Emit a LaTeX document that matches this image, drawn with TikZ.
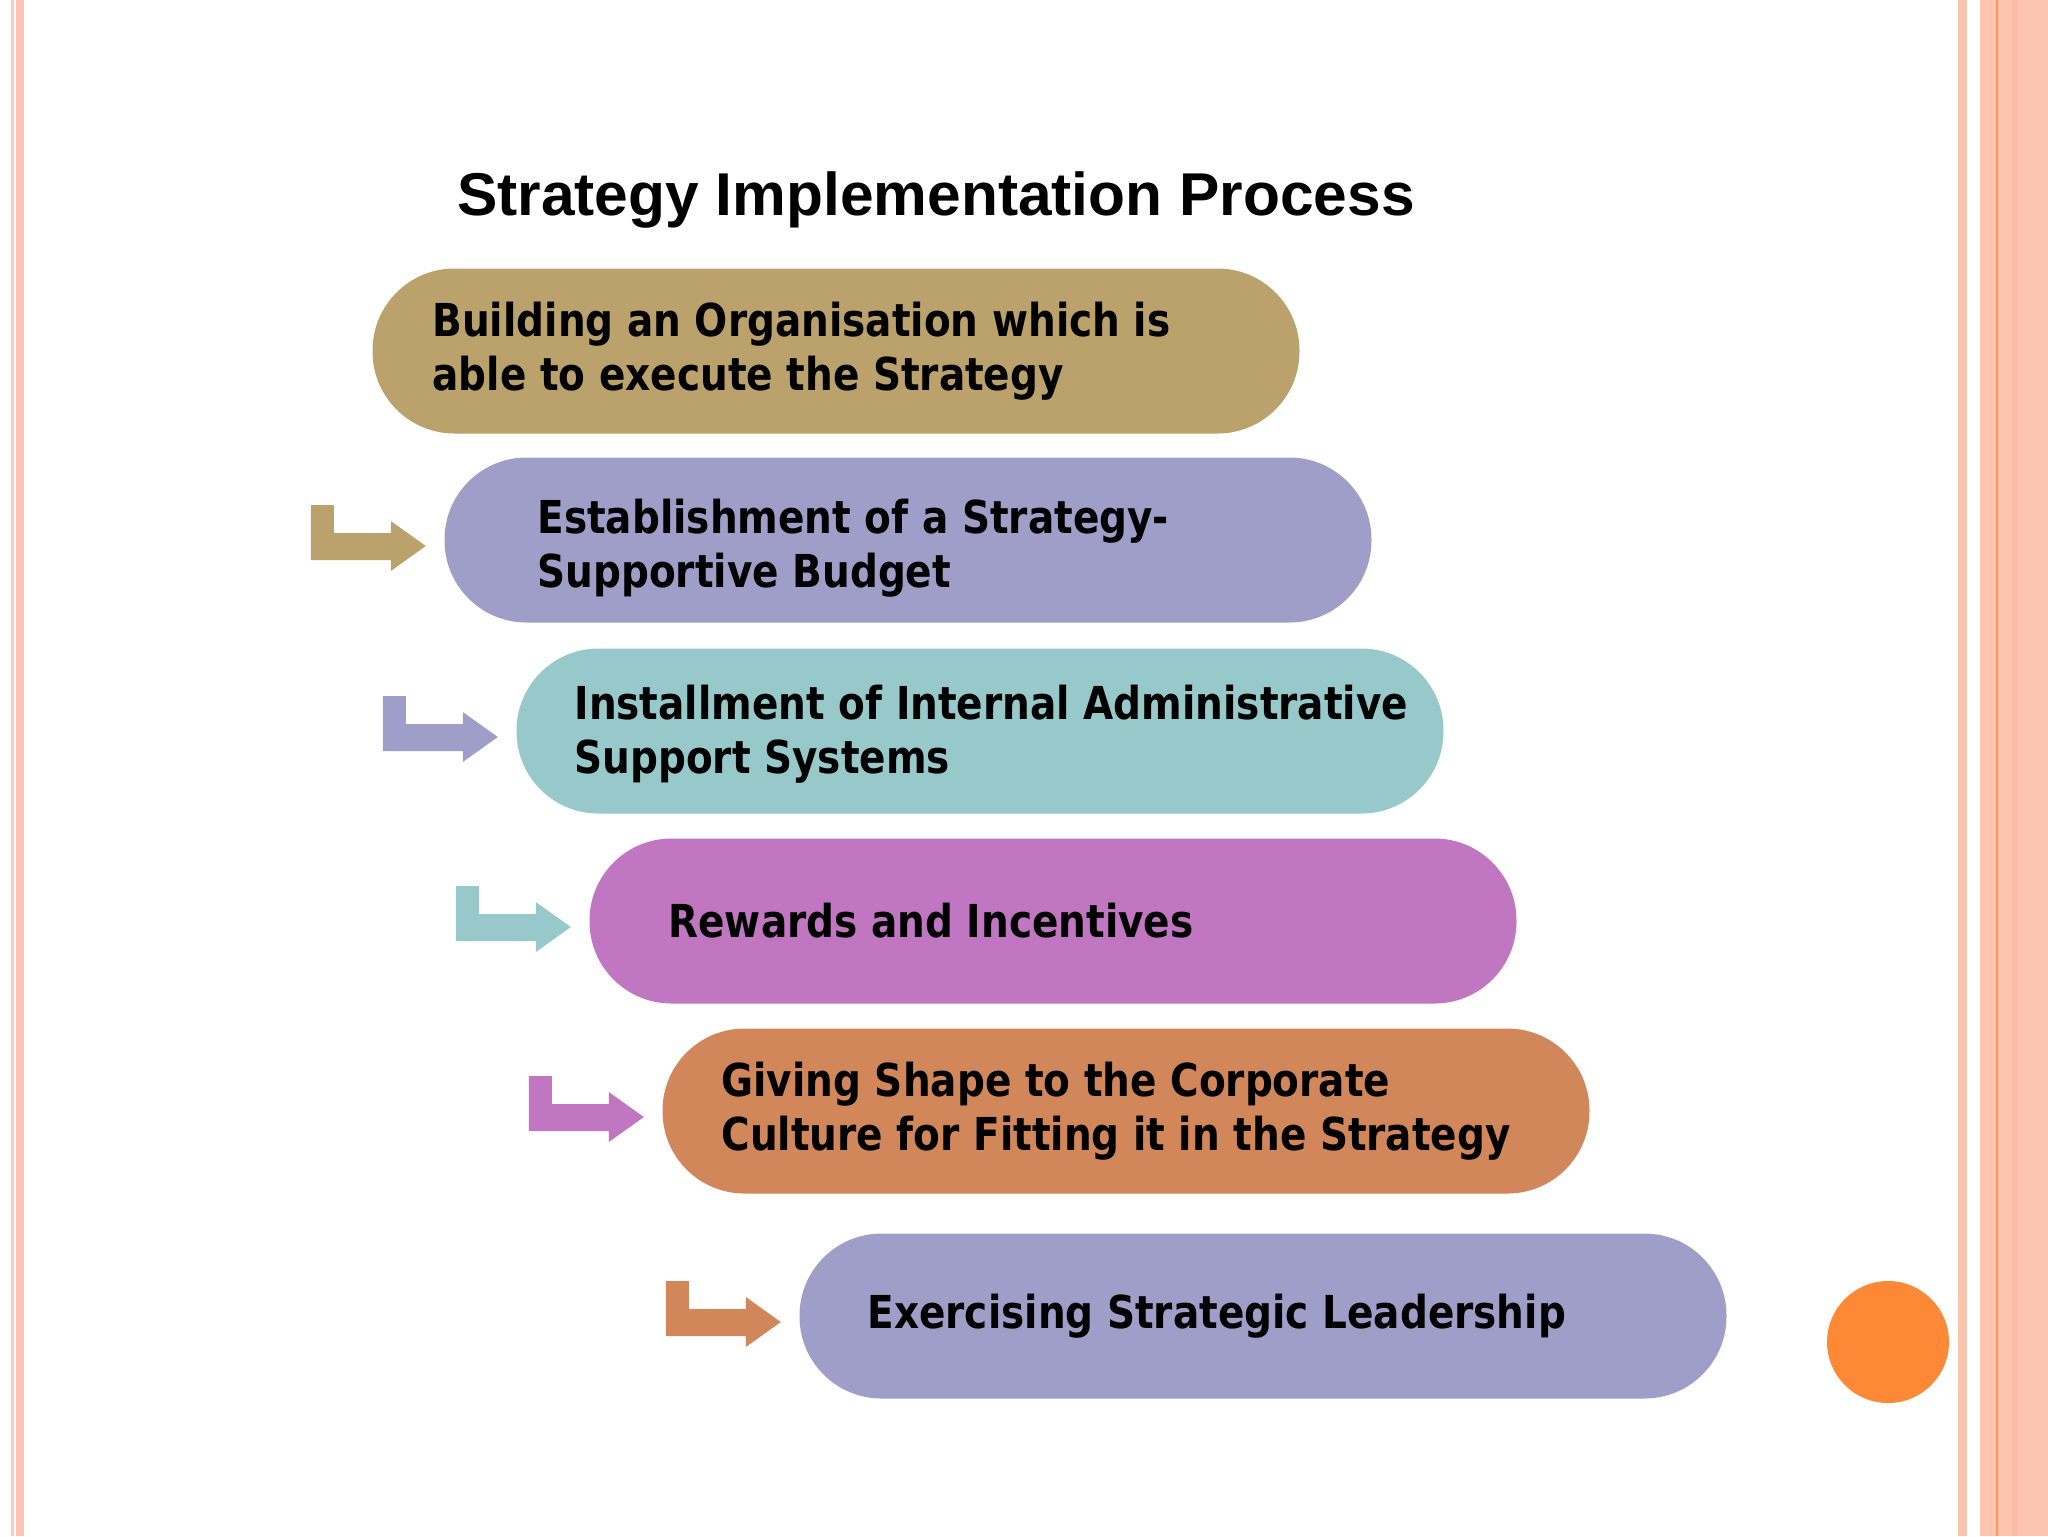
\documentclass[tikz,border=0pt]{standalone}
\usepackage{fontspec}
\setmainfont{Liberation Sans}
\newfontfamily\pillfont{DejaVu Sans}[FakeStretch=0.86]
\usetikzlibrary{positioning}
\definecolor{tanc}{HTML}{BBA16C}
\definecolor{lavc}{HTML}{9F9EC8}
\definecolor{tealc}{HTML}{97C8CA}
\definecolor{purpc}{HTML}{C076C0}
\definecolor{clayc}{HTML}{D2875B}
\definecolor{dotc}{HTML}{FD8836}
\definecolor{edgec}{HTML}{FDC4AF}
\definecolor{edgelt}{HTML}{F6CDC4}
\definecolor{edgedk}{HTML}{F29A68}
\definecolor{edgemid}{HTML}{FBBBA2}
\tikzset{
  pill/.style = {rounded corners=8.2mm, minimum width=92.7mm,
    minimum height=16.5mm, inner sep=0},
  pilltext/.style = {font=\pillfont\bfseries\fontsize{12.9}{15.2}\selectfont,
    align=left, anchor=west, inner sep=0}
}
% bent arrow in front of a step, #1 colour, #2 anchor of the next step
\newcommand{\bentarrow}[2]{%
  \fill[#1, shift={(#2)}] (-133,-35) -- (-110,-35) -- (-110,-7) -- (-53,-7)
    -- (-53,-19) -- (-18,6) -- (-53,31) -- (-53,20) -- (-133,20) -- cycle;}

\begin{document}
\begin{tikzpicture}[x=0.1mm, y=-0.1mm]
  \useasboundingbox (0,0) rectangle (2048,1536);
  % page edges
  \fill[edgelt] (11,0) rectangle (13.5,1536);
  \fill[edgec] (16,0) rectangle (24,1536);
  \fill[edgec] (1958,0) rectangle (1967,1536);
  \fill[edgec] (1980,0) rectangle (2048,1536);
  \fill[edgemid] (2012,0) rectangle (2017,1536);
  \fill[edgedk] (1995.5,0) rectangle (1997.5,1536);

  \node[font=\bfseries\fontsize{17.2}{20}\selectfont, anchor=base] (title)
    at (936,215) {Strategy Implementation Process};

  \foreach \n/\x/\y/\c in {p1/836/351/tanc, p2/908/540/lavc, p3/980/731/tealc,
                           p4/1053/921/purpc, p5/1126/1111/clayc, p6/1263/1316/lavc}
    { \node[pill, fill=\c] (\n) at (\x,\y) {}; }

  \node[pilltext, right=6mm of p1.west] (t1)
    {Building an Organisation which is\\able to execute the Strategy};
  \node[pilltext, right=9.3mm of p2.west, yshift=-0.8mm] (t2)
    {Establishment of a Strategy-\\Supportive Budget};
  \node[pilltext, right=5.8mm of p3.west, yshift=-0.3mm] (t3)
    {Installment of Internal Administrative\\Support Systems};
  \node[pilltext, right=7.9mm of p4.west] (t4) {Rewards and Incentives};
  \node[pilltext, right=5.9mm of p5.west] (t5)
    {Giving Shape to the Corporate\\Culture for Fitting it in the Strategy};
  \node[pilltext, right=6.8mm of p6.west] (t6) {Exercising Strategic Leadership};

  \foreach \c/\b in {tanc/p2, lavc/p3, tealc/p4, purpc/p5, clayc/p6}
    { \bentarrow{\c}{\b.west} }

  \node[circle, fill=dotc, minimum size=12.2mm, inner sep=0] (dot) at (1888,1342) {};
\end{tikzpicture}
\end{document}
